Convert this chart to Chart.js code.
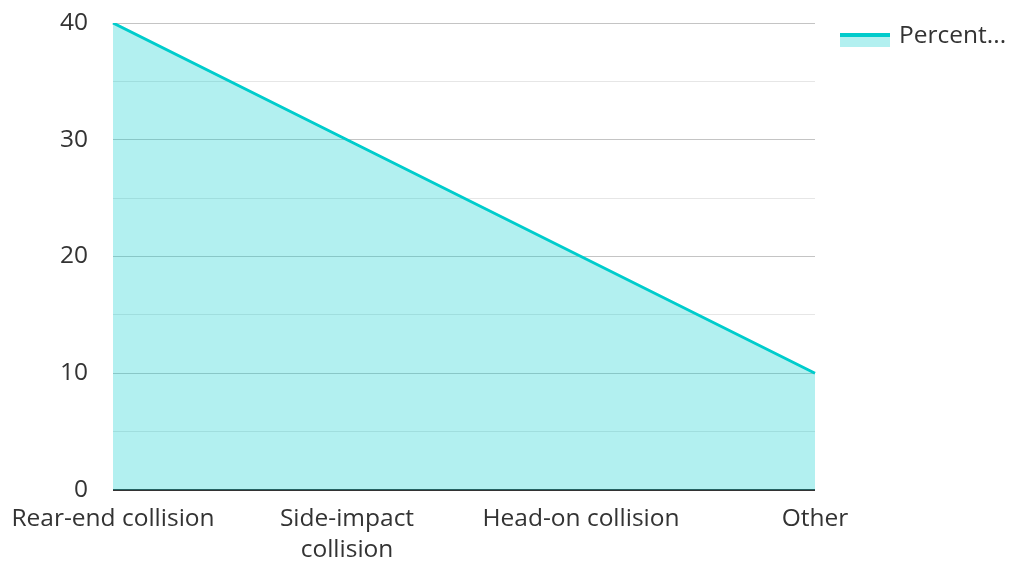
<!DOCTYPE html>
<html>
<head>
<meta charset="utf-8">
<script src="https://cdn.jsdelivr.net/npm/chart.js@4/dist/chart.umd.min.js"></script>
<style>
html,body{margin:0;padding:0;background:#fff;}
#wrap{width:1010px;height:562px;}
</style>
</head>
<body>
<div id="wrap"><canvas id="c" width="1010" height="562"></canvas></div>
<script>
const categories = [['Rear-end collision'], ['Side-impact', 'collision'], ['Head-on collision'], ['Other']];
const seriesName = 'Percent...';
const percentValues = [40, 30, 20, 10];
const yTickValues = [0, 10, 20, 30, 40];

const lineColor = '#00cccc';
const fillColor = 'rgba(0,204,204,0.3)';
const fontFamily = '"Open Sans", "Noto Sans", sans-serif';
const fontSize = 24.5;

const legendPlugin = {
  id: 'customLegend',
  afterDraw(chart) {
    const ctx = chart.ctx;
    ctx.save();
    ctx.fillStyle = fillColor;
    ctx.fillRect(840, 33, 50, 14);
    ctx.fillStyle = lineColor;
    ctx.fillRect(840, 33, 50, 4);
    ctx.fillStyle = '#333333';
    ctx.font = fontSize + 'px ' + fontFamily;
    ctx.textBaseline = 'middle';
    ctx.textAlign = 'left';
    ctx.fillText(seriesName, 899, 36);
    ctx.restore();
  }
};

new Chart(document.getElementById('c'), {
  type: 'line',
  data: {
    labels: categories,
    datasets: [{
      label: seriesName,
      data: percentValues,
      borderColor: lineColor,
      backgroundColor: fillColor,
      borderWidth: 3,
      fill: 'origin',
      tension: 0,
      pointRadius: 0,
      pointHoverRadius: 0
    }]
  },
  options: {
    responsive: false,
    animation: false,
    events: [],
    layout: { padding: { top: 23, right: 195, left: 0, bottom: 0 } },
    plugins: { legend: { display: false }, tooltip: { enabled: false } },
    scales: {
      x: {
        offset: false,
        grid: { display: false, drawTicks: false },
        border: { display: false },
        ticks: {
          color: '#333333',
          font: { family: fontFamily, size: fontSize, lineHeight: 1.27 },
          maxRotation: 0, minRotation: 0, autoSkip: false, padding: 13
        },
        afterFit(s) { s.height = 72; s.paddingLeft = 0; s.paddingRight = 0; }
      },
      y: {
        min: 0, max: 40,
        border: { display: false },
        grid: {
          drawTicks: false,
          color(ctx) {
            const v = ctx.tick.value;
            if (v === 0) return '#333333';
            return (v % 10 === 0) ? '#c4c4c4' : '#e6e6e6';
          },
          lineWidth(ctx) { return ctx.tick.value === 0 ? 2 : 1; }
        },
        ticks: {
          stepSize: 5,
          color: '#333333',
          padding: 25,
          font: { family: fontFamily, size: fontSize },
          callback(v) { return yTickValues.includes(v) ? String(v) : ''; }
        },
        afterFit(s) { s.width = 113; s.paddingTop = 0; s.paddingBottom = 0; }
      }
    }
  },
  plugins: [legendPlugin]
});
</script>
</body>
</html>
